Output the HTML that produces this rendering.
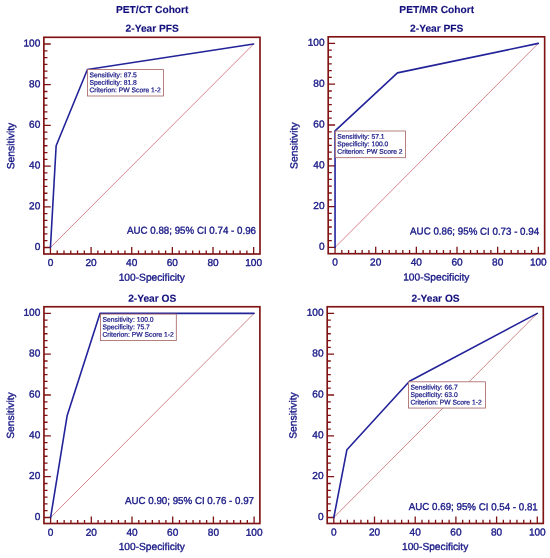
<!DOCTYPE html>
<html lang="en"><head><meta charset="utf-8"><title>ROC curves</title>
<style>html,body{margin:0;padding:0;background:#fff}svg{display:block}text{font-family:"Liberation Sans",Arial,sans-serif;fill:#181886;text-rendering:geometricPrecision;stroke:#181886;stroke-width:0.35px;stroke-linejoin:round}text.b{font-weight:bold;fill:#130f7c;stroke:#130f7c;stroke-width:0.12px}text.a{stroke-width:0.22px}</style>
</head><body>
<svg width="550" height="558" viewBox="0 0 550 558">
<rect width="550" height="558" fill="#ffffff"/>
<g>
<line x1="50.45" y1="247.5" x2="253.65" y2="44" stroke="#c25e66" stroke-width="0.75"/>
<path d="M50.45 254v-6.9M43.85 247.5h6.9M57.22 254v-3.6M43.85 240.72h3.6M64 254v-3.6M43.85 233.93h3.6M70.77 254v-3.6M43.85 227.15h3.6M77.54 254v-3.6M43.85 220.37h3.6M84.32 254v-3.6M43.85 213.58h3.6M91.09 254v-6.9M43.85 206.8h6.9M97.86 254v-3.6M43.85 200.02h3.6M104.64 254v-3.6M43.85 193.23h3.6M111.41 254v-3.6M43.85 186.45h3.6M118.18 254v-3.6M43.85 179.67h3.6M124.96 254v-3.6M43.85 172.88h3.6M131.73 254v-6.9M43.85 166.1h6.9M138.5 254v-3.6M43.85 159.32h3.6M145.28 254v-3.6M43.85 152.53h3.6M152.05 254v-3.6M43.85 145.75h3.6M158.82 254v-3.6M43.85 138.97h3.6M165.6 254v-3.6M43.85 132.18h3.6M172.37 254v-6.9M43.85 125.4h6.9M179.14 254v-3.6M43.85 118.62h3.6M185.92 254v-3.6M43.85 111.83h3.6M192.69 254v-3.6M43.85 105.05h3.6M199.46 254v-3.6M43.85 98.27h3.6M206.24 254v-3.6M43.85 91.48h3.6M213.01 254v-6.9M43.85 84.7h6.9M219.78 254v-3.6M43.85 77.92h3.6M226.56 254v-3.6M43.85 71.13h3.6M233.33 254v-3.6M43.85 64.35h3.6M240.1 254v-3.6M43.85 57.57h3.6M246.88 254v-3.6M43.85 50.78h3.6M253.65 254v-6.9M43.85 44h6.9" stroke="#7f1212" stroke-width="1.3" fill="none"/>
<rect x="43.85" y="37.3" width="216.15" height="216.7" fill="none" stroke="#7f1212" stroke-width="1.65"/>
<polyline points="50.45,247.5 56.14,145.75 87.43,69.44 253.65,44" fill="none" stroke="#23239a" stroke-width="1.6" stroke-linejoin="round" stroke-linecap="round"/>
<rect x="87.5" y="69.6" width="76" height="26.4" fill="#ffffff" stroke="#a46060" stroke-width="0.8"/>
<text class="a" x="89.5" y="77.3" font-size="6.75" transform="rotate(0.05 89.5 77.3)">Sensitivity: 87.5</text>
<text class="a" x="89.5" y="84.8" font-size="6.75" transform="rotate(0.05 89.5 84.8)">Specificity: 81.8</text>
<text class="a" x="89.5" y="92.3" font-size="6.75" transform="rotate(0.05 89.5 92.3)">Criterion: PW Score 1-2</text>
<text x="50.45" y="266" font-size="10.1" text-anchor="middle" transform="rotate(0.05 50.45 266)">0</text>
<text x="40.25" y="249.95" font-size="10.1" text-anchor="end" transform="rotate(0.05 40.25 249.95)">0</text>
<text x="91.09" y="266" font-size="10.1" text-anchor="middle" transform="rotate(0.05 91.09 266)">20</text>
<text x="40.25" y="209.25" font-size="10.1" text-anchor="end" transform="rotate(0.05 40.25 209.25)">20</text>
<text x="131.73" y="266" font-size="10.1" text-anchor="middle" transform="rotate(0.05 131.73 266)">40</text>
<text x="40.25" y="168.55" font-size="10.1" text-anchor="end" transform="rotate(0.05 40.25 168.55)">40</text>
<text x="172.37" y="266" font-size="10.1" text-anchor="middle" transform="rotate(0.05 172.37 266)">60</text>
<text x="40.25" y="127.85" font-size="10.1" text-anchor="end" transform="rotate(0.05 40.25 127.85)">60</text>
<text x="213.01" y="266" font-size="10.1" text-anchor="middle" transform="rotate(0.05 213.01 266)">80</text>
<text x="40.25" y="87.15" font-size="10.1" text-anchor="end" transform="rotate(0.05 40.25 87.15)">80</text>
<text x="253.65" y="266" font-size="10.1" text-anchor="middle" transform="rotate(0.05 253.65 266)">100</text>
<text x="40.25" y="46.45" font-size="10.1" text-anchor="end" transform="rotate(0.05 40.25 46.45)">100</text>
<text x="151.83" y="280.8" font-size="10.2" text-anchor="middle" transform="rotate(0.05 151.83 280.8)">100-Specificity</text>
<text transform="translate(14.35 146.05) rotate(-90.05)" font-size="10.35" text-anchor="middle">Sensitivity</text>
<text class="b" x="152.23" y="31.8" font-size="10.2" text-anchor="middle" transform="rotate(0.05 152.23 31.8)">2-Year PFS</text>
<text class="b" x="152.23" y="13" font-size="10.2" text-anchor="middle" transform="rotate(0.05 152.23 13)">PET/CT Cohort</text>
<text x="256" y="233.9" font-size="10.1" text-anchor="end" textLength="129" lengthAdjust="spacingAndGlyphs" transform="rotate(0.05 256 233.9)">AUC 0.88; 95% CI 0.74 - 0.96</text>
</g>
<g>
<line x1="335.05" y1="247.4" x2="538.3" y2="43.4" stroke="#c25e66" stroke-width="0.75"/>
<path d="M335.05 253.7v-6.9M328.2 247.4h6.9M341.82 253.7v-3.6M328.2 240.6h3.6M348.6 253.7v-3.6M328.2 233.8h3.6M355.38 253.7v-3.6M328.2 227h3.6M362.15 253.7v-3.6M328.2 220.2h3.6M368.93 253.7v-3.6M328.2 213.4h3.6M375.7 253.7v-6.9M328.2 206.6h6.9M382.48 253.7v-3.6M328.2 199.8h3.6M389.25 253.7v-3.6M328.2 193h3.6M396.02 253.7v-3.6M328.2 186.2h3.6M402.8 253.7v-3.6M328.2 179.4h3.6M409.57 253.7v-3.6M328.2 172.6h3.6M416.35 253.7v-6.9M328.2 165.8h6.9M423.12 253.7v-3.6M328.2 159h3.6M429.9 253.7v-3.6M328.2 152.2h3.6M436.67 253.7v-3.6M328.2 145.4h3.6M443.45 253.7v-3.6M328.2 138.6h3.6M450.22 253.7v-3.6M328.2 131.8h3.6M457 253.7v-6.9M328.2 125h6.9M463.77 253.7v-3.6M328.2 118.2h3.6M470.55 253.7v-3.6M328.2 111.4h3.6M477.32 253.7v-3.6M328.2 104.6h3.6M484.1 253.7v-3.6M328.2 97.8h3.6M490.88 253.7v-3.6M328.2 91h3.6M497.65 253.7v-6.9M328.2 84.2h6.9M504.42 253.7v-3.6M328.2 77.4h3.6M511.2 253.7v-3.6M328.2 70.6h3.6M517.97 253.7v-3.6M328.2 63.8h3.6M524.75 253.7v-3.6M328.2 57h3.6M531.52 253.7v-3.6M328.2 50.2h3.6M538.3 253.7v-6.9M328.2 43.4h6.9" stroke="#7f1212" stroke-width="1.3" fill="none"/>
<rect x="328.2" y="36.8" width="216.45" height="216.9" fill="none" stroke="#7f1212" stroke-width="1.65"/>
<polyline points="335.05,247.4 335.05,130.92 397.45,72.88 538.3,43.4" fill="none" stroke="#23239a" stroke-width="1.6" stroke-linejoin="round" stroke-linecap="round"/>
<rect x="335.3" y="131" width="70.3" height="26.7" fill="#ffffff" stroke="#a46060" stroke-width="0.8"/>
<text class="a" x="337.3" y="138.7" font-size="6.75" transform="rotate(0.05 337.3 138.7)">Sensitivity: 57.1</text>
<text class="a" x="337.3" y="146.2" font-size="6.75" transform="rotate(0.05 337.3 146.2)">Specificity: 100.0</text>
<text class="a" x="337.3" y="153.7" font-size="6.75" transform="rotate(0.05 337.3 153.7)">Criterion: PW Score 2</text>
<text x="335.05" y="265.6" font-size="10.1" text-anchor="middle" transform="rotate(0.05 335.05 265.6)">0</text>
<text x="324.6" y="249.85" font-size="10.1" text-anchor="end" transform="rotate(0.05 324.6 249.85)">0</text>
<text x="375.7" y="265.6" font-size="10.1" text-anchor="middle" transform="rotate(0.05 375.7 265.6)">20</text>
<text x="324.6" y="209.05" font-size="10.1" text-anchor="end" transform="rotate(0.05 324.6 209.05)">20</text>
<text x="416.35" y="265.6" font-size="10.1" text-anchor="middle" transform="rotate(0.05 416.35 265.6)">40</text>
<text x="324.6" y="168.25" font-size="10.1" text-anchor="end" transform="rotate(0.05 324.6 168.25)">40</text>
<text x="457" y="265.6" font-size="10.1" text-anchor="middle" transform="rotate(0.05 457 265.6)">60</text>
<text x="324.6" y="127.45" font-size="10.1" text-anchor="end" transform="rotate(0.05 324.6 127.45)">60</text>
<text x="497.65" y="265.6" font-size="10.1" text-anchor="middle" transform="rotate(0.05 497.65 265.6)">80</text>
<text x="324.6" y="86.65" font-size="10.1" text-anchor="end" transform="rotate(0.05 324.6 86.65)">80</text>
<text x="538.3" y="265.6" font-size="10.1" text-anchor="middle" transform="rotate(0.05 538.3 265.6)">100</text>
<text x="324.6" y="45.85" font-size="10.1" text-anchor="end" transform="rotate(0.05 324.6 45.85)">100</text>
<text x="436.32" y="280.5" font-size="10.2" text-anchor="middle" transform="rotate(0.05 436.32 280.5)">100-Specificity</text>
<text transform="translate(297.4 145.65) rotate(-90.05)" font-size="10.35" text-anchor="middle">Sensitivity</text>
<text class="b" x="436.72" y="31.8" font-size="10.2" text-anchor="middle" transform="rotate(0.05 436.72 31.8)">2-Year PFS</text>
<text class="b" x="436.72" y="13" font-size="10.2" text-anchor="middle" transform="rotate(0.05 436.72 13)">PET/MR Cohort</text>
<text x="539.1" y="234.7" font-size="10.1" text-anchor="end" textLength="129" lengthAdjust="spacingAndGlyphs" transform="rotate(0.05 539.1 234.7)">AUC 0.86; 95% CI 0.73 - 0.94</text>
</g>
<g>
<line x1="50.6" y1="517.5" x2="254.1" y2="313.35" stroke="#c25e66" stroke-width="0.75"/>
<path d="M50.6 523.5v-6.9M43.95 517.5h6.9M57.38 523.5v-3.6M43.95 510.69h3.6M64.17 523.5v-3.6M43.95 503.89h3.6M70.95 523.5v-3.6M43.95 497.08h3.6M77.73 523.5v-3.6M43.95 490.28h3.6M84.52 523.5v-3.6M43.95 483.48h3.6M91.3 523.5v-6.9M43.95 476.67h6.9M98.08 523.5v-3.6M43.95 469.87h3.6M104.87 523.5v-3.6M43.95 463.06h3.6M111.65 523.5v-3.6M43.95 456.25h3.6M118.43 523.5v-3.6M43.95 449.45h3.6M125.22 523.5v-3.6M43.95 442.64h3.6M132 523.5v-6.9M43.95 435.84h6.9M138.78 523.5v-3.6M43.95 429.03h3.6M145.57 523.5v-3.6M43.95 422.23h3.6M152.35 523.5v-3.6M43.95 415.43h3.6M159.13 523.5v-3.6M43.95 408.62h3.6M165.92 523.5v-3.6M43.95 401.81h3.6M172.7 523.5v-6.9M43.95 395.01h6.9M179.48 523.5v-3.6M43.95 388.21h3.6M186.27 523.5v-3.6M43.95 381.4h3.6M193.05 523.5v-3.6M43.95 374.6h3.6M199.83 523.5v-3.6M43.95 367.79h3.6M206.62 523.5v-3.6M43.95 360.99h3.6M213.4 523.5v-6.9M43.95 354.18h6.9M220.18 523.5v-3.6M43.95 347.38h3.6M226.97 523.5v-3.6M43.95 340.57h3.6M233.75 523.5v-3.6M43.95 333.77h3.6M240.53 523.5v-3.6M43.95 326.96h3.6M247.32 523.5v-3.6M43.95 320.15h3.6M254.1 523.5v-6.9M43.95 313.35h6.9" stroke="#7f1212" stroke-width="1.3" fill="none"/>
<rect x="43.95" y="306.75" width="215.95" height="216.75" fill="none" stroke="#7f1212" stroke-width="1.65"/>
<polyline points="50.6,517.5 67.19,415.43 100.05,313.35 254.1,313.35" fill="none" stroke="#23239a" stroke-width="1.6" stroke-linejoin="round" stroke-linecap="round"/>
<rect x="100.5" y="314.1" width="75.8" height="26.5" fill="#ffffff" stroke="#a46060" stroke-width="0.8"/>
<text class="a" x="102.5" y="321.8" font-size="6.75" transform="rotate(0.05 102.5 321.8)">Sensitivity: 100.0</text>
<text class="a" x="102.5" y="329.3" font-size="6.75" transform="rotate(0.05 102.5 329.3)">Specificity: 75.7</text>
<text class="a" x="102.5" y="336.8" font-size="6.75" transform="rotate(0.05 102.5 336.8)">Criterion: PW Score 1-2</text>
<text x="50.6" y="535.7" font-size="10.1" text-anchor="middle" transform="rotate(0.05 50.6 535.7)">0</text>
<text x="40.35" y="519.95" font-size="10.1" text-anchor="end" transform="rotate(0.05 40.35 519.95)">0</text>
<text x="91.3" y="535.7" font-size="10.1" text-anchor="middle" transform="rotate(0.05 91.3 535.7)">20</text>
<text x="40.35" y="479.12" font-size="10.1" text-anchor="end" transform="rotate(0.05 40.35 479.12)">20</text>
<text x="132" y="535.7" font-size="10.1" text-anchor="middle" transform="rotate(0.05 132 535.7)">40</text>
<text x="40.35" y="438.29" font-size="10.1" text-anchor="end" transform="rotate(0.05 40.35 438.29)">40</text>
<text x="172.7" y="535.7" font-size="10.1" text-anchor="middle" transform="rotate(0.05 172.7 535.7)">60</text>
<text x="40.35" y="397.46" font-size="10.1" text-anchor="end" transform="rotate(0.05 40.35 397.46)">60</text>
<text x="213.4" y="535.7" font-size="10.1" text-anchor="middle" transform="rotate(0.05 213.4 535.7)">80</text>
<text x="40.35" y="356.63" font-size="10.1" text-anchor="end" transform="rotate(0.05 40.35 356.63)">80</text>
<text x="254.1" y="535.7" font-size="10.1" text-anchor="middle" transform="rotate(0.05 254.1 535.7)">100</text>
<text x="40.35" y="315.8" font-size="10.1" text-anchor="end" transform="rotate(0.05 40.35 315.8)">100</text>
<text x="151.82" y="550" font-size="10.2" text-anchor="middle" transform="rotate(0.05 151.82 550)">100-Specificity</text>
<text transform="translate(13.95 415.52) rotate(-90.05)" font-size="10.35" text-anchor="middle">Sensitivity</text>
<text class="b" x="152.22" y="301.8" font-size="10.2" text-anchor="middle" transform="rotate(0.05 152.22 301.8)">2-Year OS</text>
<text x="254" y="504" font-size="10.1" text-anchor="end" textLength="129" lengthAdjust="spacingAndGlyphs" transform="rotate(0.05 254 504)">AUC 0.90; 95% CI 0.76 - 0.97</text>
</g>
<g>
<line x1="333.8" y1="517.5" x2="537.3" y2="313.35" stroke="#c25e66" stroke-width="0.75"/>
<path d="M333.8 523.45v-6.9M327.2 517.5h6.9M340.58 523.45v-3.6M327.2 510.69h3.6M347.37 523.45v-3.6M327.2 503.89h3.6M354.15 523.45v-3.6M327.2 497.08h3.6M360.93 523.45v-3.6M327.2 490.28h3.6M367.72 523.45v-3.6M327.2 483.48h3.6M374.5 523.45v-6.9M327.2 476.67h6.9M381.28 523.45v-3.6M327.2 469.87h3.6M388.07 523.45v-3.6M327.2 463.06h3.6M394.85 523.45v-3.6M327.2 456.25h3.6M401.63 523.45v-3.6M327.2 449.45h3.6M408.42 523.45v-3.6M327.2 442.64h3.6M415.2 523.45v-6.9M327.2 435.84h6.9M421.98 523.45v-3.6M327.2 429.03h3.6M428.77 523.45v-3.6M327.2 422.23h3.6M435.55 523.45v-3.6M327.2 415.43h3.6M442.33 523.45v-3.6M327.2 408.62h3.6M449.12 523.45v-3.6M327.2 401.81h3.6M455.9 523.45v-6.9M327.2 395.01h6.9M462.68 523.45v-3.6M327.2 388.21h3.6M469.47 523.45v-3.6M327.2 381.4h3.6M476.25 523.45v-3.6M327.2 374.6h3.6M483.03 523.45v-3.6M327.2 367.79h3.6M489.82 523.45v-3.6M327.2 360.99h3.6M496.6 523.45v-6.9M327.2 354.18h6.9M503.38 523.45v-3.6M327.2 347.38h3.6M510.17 523.45v-3.6M327.2 340.57h3.6M516.95 523.45v-3.6M327.2 333.77h3.6M523.73 523.45v-3.6M327.2 326.96h3.6M530.52 523.45v-3.6M327.2 320.15h3.6M537.3 523.45v-6.9M327.2 313.35h6.9" stroke="#7f1212" stroke-width="1.3" fill="none"/>
<rect x="327.2" y="306.75" width="216.1" height="216.7" fill="none" stroke="#7f1212" stroke-width="1.65"/>
<polyline points="333.8,517.5 346.93,449.72 409.5,381.33 537.3,313.35" fill="none" stroke="#23239a" stroke-width="1.6" stroke-linejoin="round" stroke-linecap="round"/>
<rect x="408.4" y="381.8" width="77.2" height="26.25" fill="#ffffff" stroke="#a46060" stroke-width="0.8"/>
<text class="a" x="410.4" y="389.5" font-size="6.75" transform="rotate(0.05 410.4 389.5)">Sensitivity: 66.7</text>
<text class="a" x="410.4" y="397" font-size="6.75" transform="rotate(0.05 410.4 397)">Specificity: 63.0</text>
<text class="a" x="410.4" y="404.5" font-size="6.75" transform="rotate(0.05 410.4 404.5)">Criterion: PW Score 1-2</text>
<text x="333.8" y="535.6" font-size="10.1" text-anchor="middle" transform="rotate(0.05 333.8 535.6)">0</text>
<text x="323.6" y="519.95" font-size="10.1" text-anchor="end" transform="rotate(0.05 323.6 519.95)">0</text>
<text x="374.5" y="535.6" font-size="10.1" text-anchor="middle" transform="rotate(0.05 374.5 535.6)">20</text>
<text x="323.6" y="479.12" font-size="10.1" text-anchor="end" transform="rotate(0.05 323.6 479.12)">20</text>
<text x="415.2" y="535.6" font-size="10.1" text-anchor="middle" transform="rotate(0.05 415.2 535.6)">40</text>
<text x="323.6" y="438.29" font-size="10.1" text-anchor="end" transform="rotate(0.05 323.6 438.29)">40</text>
<text x="455.9" y="535.6" font-size="10.1" text-anchor="middle" transform="rotate(0.05 455.9 535.6)">60</text>
<text x="323.6" y="397.46" font-size="10.1" text-anchor="end" transform="rotate(0.05 323.6 397.46)">60</text>
<text x="496.6" y="535.6" font-size="10.1" text-anchor="middle" transform="rotate(0.05 496.6 535.6)">80</text>
<text x="323.6" y="356.63" font-size="10.1" text-anchor="end" transform="rotate(0.05 323.6 356.63)">80</text>
<text x="537.3" y="535.6" font-size="10.1" text-anchor="middle" transform="rotate(0.05 537.3 535.6)">100</text>
<text x="323.6" y="315.8" font-size="10.1" text-anchor="end" transform="rotate(0.05 323.6 315.8)">100</text>
<text x="435.15" y="550" font-size="10.2" text-anchor="middle" transform="rotate(0.05 435.15 550)">100-Specificity</text>
<text transform="translate(296.5 415.5) rotate(-90.05)" font-size="10.35" text-anchor="middle">Sensitivity</text>
<text class="b" x="435.55" y="301.8" font-size="10.2" text-anchor="middle" transform="rotate(0.05 435.55 301.8)">2-Year OS</text>
<text x="537.8" y="510.2" font-size="10.1" text-anchor="end" textLength="129" lengthAdjust="spacingAndGlyphs" transform="rotate(0.05 537.8 510.2)">AUC 0.69; 95% CI 0.54 - 0.81</text>
</g>
</svg>
</body></html>
